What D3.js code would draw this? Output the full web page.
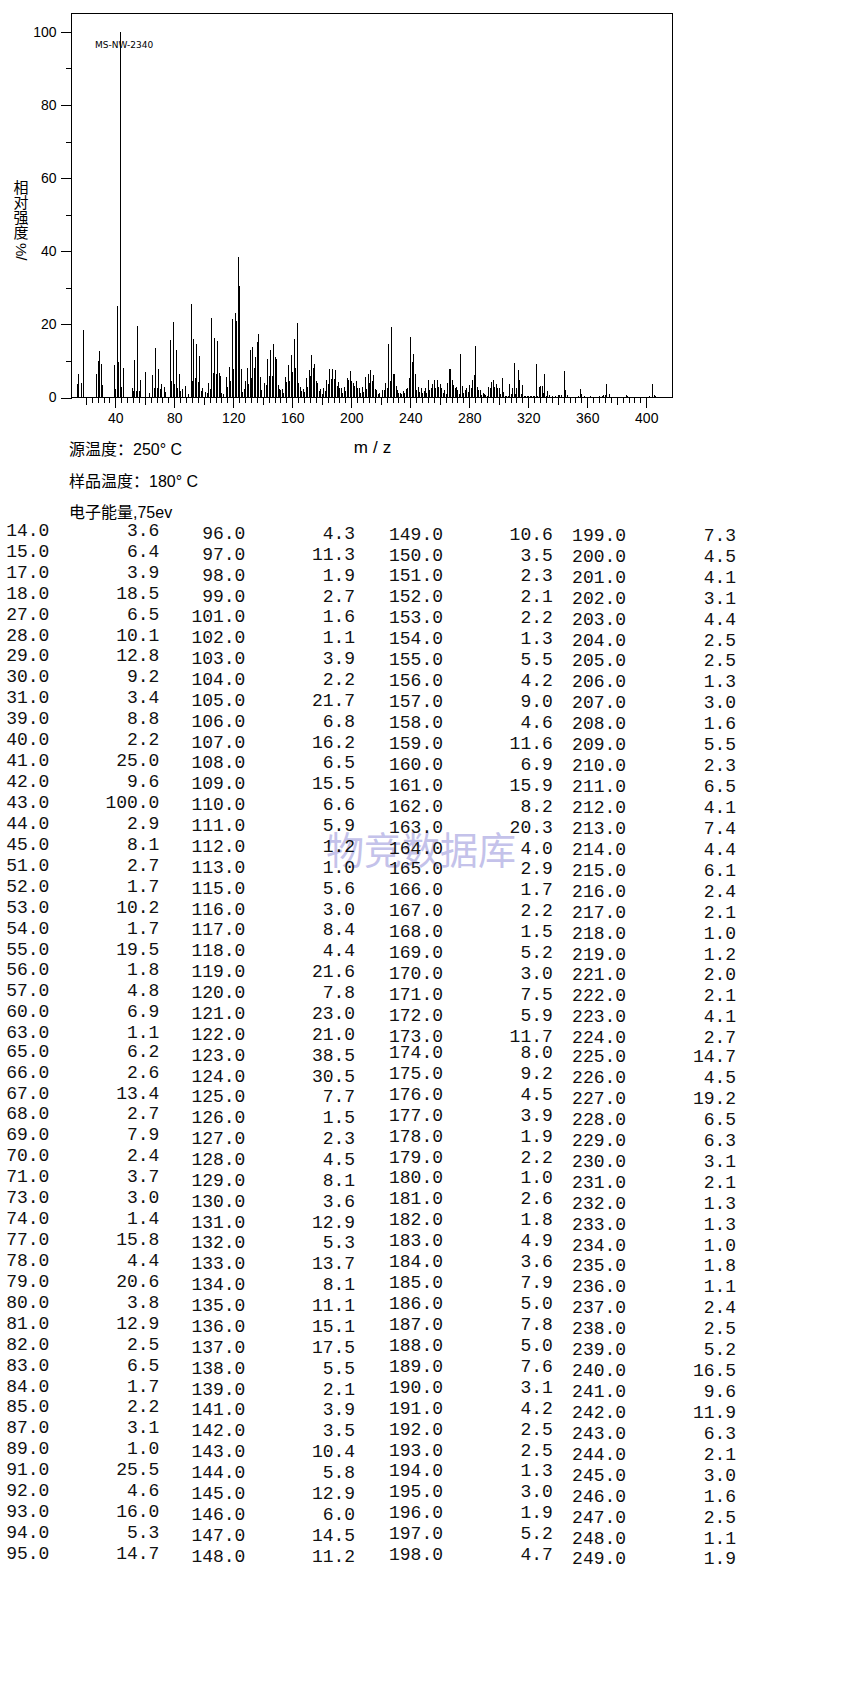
<!DOCTYPE html>
<html><head><meta charset="utf-8">
<script src="https://cdn.jsdelivr.net/npm/d3@7"></script>
<style>
html,body{margin:0;padding:0;background:#fff;}
svg{display:block;}
</style></head><body>
<svg id="chart" width="850" height="1701"></svg>
<script>
// ---- data: table columns (m/z, relative intensity) ----
const massCol1 = [14,15,17,18,27,28,29,30,31,39,40,41,42,43,44,45,51,52,53,54,55,56,57,60,63,65,66,67,68,69,70,71,73,74,77,78,79,80,81,82,83,84,85,87,89,91,92,93,94,95];
const intCol1  = [3.6,6.4,3.9,18.5,6.5,10.1,12.8,9.2,3.4,8.8,2.2,25.0,9.6,100.0,2.9,8.1,2.7,1.7,10.2,1.7,19.5,1.8,4.8,6.9,1.1,6.2,2.6,13.4,2.7,7.9,2.4,3.7,3.0,1.4,15.8,4.4,20.6,3.8,12.9,2.5,6.5,1.7,2.2,3.1,1.0,25.5,4.6,16.0,5.3,14.7];
const massCol2 = [96,97,98,99,101,102,103,104,105,106,107,108,109,110,111,112,113,115,116,117,118,119,120,121,122,123,124,125,126,127,128,129,130,131,132,133,134,135,136,137,138,139,141,142,143,144,145,146,147,148];
const intCol2  = [4.3,11.3,1.9,2.7,1.6,1.1,3.9,2.2,21.7,6.8,16.2,6.5,15.5,6.6,5.9,1.2,1.0,5.6,3.0,8.4,4.4,21.6,7.8,23.0,21.0,38.5,30.5,7.7,1.5,2.3,4.5,8.1,3.6,12.9,5.3,13.7,8.1,11.1,15.1,17.5,5.5,2.1,3.9,3.5,10.4,5.8,12.9,6.0,14.5,11.2];
const massCol3 = [149,150,151,152,153,154,155,156,157,158,159,160,161,162,163,164,165,166,167,168,169,170,171,172,173,174,175,176,177,178,179,180,181,182,183,184,185,186,187,188,189,190,191,192,193,194,195,196,197,198];
const intCol3  = [10.6,3.5,2.3,2.1,2.2,1.3,5.5,4.2,9.0,4.6,11.6,6.9,15.9,8.2,20.3,4.0,2.9,1.7,2.2,1.5,5.2,3.0,7.5,5.9,11.7,8.0,9.2,4.5,3.9,1.9,2.2,1.0,2.6,1.8,4.9,3.6,7.9,5.0,7.8,5.0,7.6,3.1,4.2,2.5,2.5,1.3,3.0,1.9,5.2,4.7];
const massCol4 = [199,200,201,202,203,204,205,206,207,208,209,210,211,212,213,214,215,216,217,218,219,221,222,223,224,225,226,227,228,229,230,231,232,233,234,235,236,237,238,239,240,241,242,243,244,245,246,247,248,249];
const intCol4  = [7.3,4.5,4.1,3.1,4.4,2.5,2.5,1.3,3.0,1.6,5.5,2.3,6.5,4.1,7.4,4.4,6.1,2.4,2.1,1.0,1.2,2.0,2.1,4.1,2.7,14.7,4.5,19.2,6.5,6.3,3.1,2.1,1.3,1.3,1.0,1.8,1.1,2.4,2.5,5.2,16.5,9.6,11.9,6.3,2.1,3.0,1.6,2.5,1.1,1.9];
// peaks drawn in the spectrum above m/z 249
const extraMasses = [250,251,252,253,254,255,256,257,258,259,260,261,262,263,264,265,266,267,268,269,270,271,272,273,274,275,276,277,278,279,280,281,282,283,284,285,286,287,288,289,290,291,292,293,294,295,296,297,298,299,300,301,302,303,304,305,306,307,308,309,310,311,312,313,314,315,316,317,318,319,320,321,322,323,324,325,326,327,328,329,330,331,332,333,334,336,338,340,341,342,344,345,346,354,355,356,358,362,368,370,371,372,373,375,386,387,402,404,405,406];
const extraIntensities = [2.5,1.2,4.7,2.0,2.5,3.8,4.7,2.5,4.7,3.0,3.8,2.7,1.1,2.0,1.0,4.0,7.7,7.7,4.7,3.4,2.7,2.9,2.0,1.0,11.8,3.1,1.3,2.0,2.5,1.5,3.4,2.5,4.9,6.1,14.0,3.0,2.0,2.0,0.6,1.1,0.9,0.8,0.5,2.9,2.7,4.3,4.7,3.0,3.8,2.5,2.6,1.0,5.2,1.5,0.4,0.4,0.4,3.6,1.0,2.5,9.3,1.0,2.5,7.6,4.9,1.0,3.3,0.4,0.4,0.4,0.4,0.4,0.4,0.4,0.4,9.1,0.5,2.9,3.1,3.1,1.1,6.4,0.5,1.8,0.7,0.4,0.4,0.7,0.7,0.7,7.2,2.0,0.7,0.4,2.2,0.9,0.5,0.5,0.4,0.5,0.7,0.7,3.6,0.9,0.7,0.4,0.4,3.6,0.8,0.4];

const yMajorTicks = [0,20,40,60,80,100];
const yMinorTicks = [10,30,50,70,90];
const xMajorTicks = [40,80,120,160,200,240,280,320,360,400];
const spectrumId = "MS-NW-2340";
const xTitle = "m/z";
const yTitleChars = ["相", "对", "强", "度"];
const yTitleUnit = "%/";
const conditionLines = ["源温度：250° C", "样品温度：180° C", "电子能量,75ev"];
const watermark = "物竞数据库";

// ---- layout ----
const svg = d3.select("#chart");
const plot = {left: 71.5, right: 672.5, top: 13.5, bottom: 397.5};
const x = d3.scaleLinear().domain([10.3, 417.8]).range([plot.left, plot.right]);
const y = d3.scaleLinear().domain([0, 105]).range([plot.bottom, plot.top]);

const cols = [
  {mass: massCol1, val: intCol1},
  {mass: massCol2, val: intCol2},
  {mass: massCol3, val: intCol3},
  {mass: massCol4, val: intCol4}
];
const peaks = [];
cols.forEach(c => c.mass.forEach((m, i) => peaks.push({m, v: c.val[i]})));
extraMasses.forEach((m, i) => peaks.push({m, v: extraIntensities[i]}));

// bars
svg.append("g").selectAll("rect").data(peaks).join("rect")
  .attr("x", d => Math.round(x(d.m)))
  .attr("width", 1)
  .attr("y", d => y(d.v))
  .attr("height", d => plot.bottom - y(d.v))
  .attr("fill", "#000")
  .attr("shape-rendering", "crispEdges");

// frame
svg.append("rect").attr("x", plot.left).attr("y", plot.top)
  .attr("width", plot.right - plot.left).attr("height", plot.bottom - plot.top)
  .attr("fill", "none").attr("stroke", "#000").attr("stroke-width", 1)
  .attr("shape-rendering", "crispEdges");

// x axis ticks
const xMinor = d3.range(20, 401, 4).filter(v => v % 20 !== 0);
const xMid = d3.range(20, 401, 20).filter(v => v % 40 !== 0);
function styleAxis(g) {
  g.select(".domain").remove();
  g.selectAll("line").attr("stroke", "#000").attr("shape-rendering", "crispEdges");
  g.selectAll("text").attr("fill", "#000");
}
svg.append("g").attr("transform", `translate(0,${plot.bottom})`)
  .call(d3.axisBottom(x).tickValues(xMinor).tickSize(5).tickFormat(""))
  .call(styleAxis);
svg.append("g").attr("transform", `translate(0,${plot.bottom})`)
  .call(d3.axisBottom(x).tickValues(xMid).tickSize(7).tickFormat(""))
  .call(styleAxis);
svg.append("g").attr("transform", `translate(0,${plot.bottom})`)
  .call(d3.axisBottom(x).tickValues(xMajorTicks).tickSize(10).tickPadding(6).tickFormat(d3.format("d")))
  .call(styleAxis)
  .selectAll("text").attr("font-family", "'Liberation Sans', Arial, sans-serif").attr("font-size", "14px");

// y axis ticks
svg.append("g").attr("transform", `translate(${plot.left},0)`)
  .call(d3.axisLeft(y).tickValues(yMinorTicks).tickSize(6).tickFormat(""))
  .call(styleAxis);
svg.append("g").attr("transform", `translate(${plot.left},0)`)
  .call(d3.axisLeft(y).tickValues(yMajorTicks).tickSize(11).tickPadding(4).tickFormat(d3.format("d")))
  .call(styleAxis)
  .selectAll("text").attr("font-family", "'Liberation Sans', Arial, sans-serif").attr("font-size", "14px");

// spectrum id
svg.append("text").attr("x", 95).attr("y", 47.5)
  .attr("font-family", "'DejaVu Sans', sans-serif").attr("font-size", "9px").attr("fill", "#000")
  .text(spectrumId);

// y title (vertical): upright CJK characters in one text, then the unit turned sideways
const yTitle = svg.append("g").attr("font-family", "'Noto Sans CJK SC', sans-serif")
  .attr("font-size", "15px").attr("fill", "#000");
yTitle.append("text").attr("text-anchor", "middle")
  .selectAll("tspan").data(yTitleChars).join("tspan")
  .attr("x", 21).attr("y", (d, i) => 193 + i * 15)
  .text(d => d);
yTitle.append("text")
  .attr("transform", "translate(21,243) rotate(90)")
  .attr("dominant-baseline", "central")
  .attr("font-family", "'Liberation Sans', Arial, sans-serif")
  .text(yTitleUnit);

// x title
svg.append("text").attr("x", (plot.left + plot.right) / 2 + 3).attr("y", 453)
  .attr("text-anchor", "middle")
  .attr("font-family", "'Liberation Sans', Arial, sans-serif").attr("font-size", "17px")
  .attr("letter-spacing", "5px").attr("fill", "#000")
  .text(xTitle);

// condition lines
svg.append("g").selectAll("text").data(conditionLines).join("text")
  .attr("x", 69).attr("y", (d, i) => 455 + i * 31.5)
  .attr("font-family", "'Liberation Sans', 'Noto Sans CJK SC', sans-serif").attr("font-size", "16px").attr("fill", "#000")
  .text(d => d);

// watermark
svg.append("text").attr("x", 326).attr("y", 864)
  .attr("font-family", "'Noto Sans CJK SC', sans-serif").attr("font-size", "38px")
  .attr("fill", "#c4c2ea")
  .text(watermark);

// table
const tableLayout = [
  {massEnd: 49.4,  valEnd: 159.4, start: 530.0, step: 20.93, jump: -2.5},
  {massEnd: 245.4, valEnd: 355.1, start: 533.0, step: 20.87, jump: 0},
  {massEnd: 443.0, valEnd: 552.8, start: 533.7, step: 20.93, jump: -5},
  {massEnd: 626.1, valEnd: 736.1, start: 535.0, step: 20.93, jump: -2}
];
const fmt = d3.format(".1f");
cols.forEach((c, ci) => {
  const L = tableLayout[ci];
  const g = svg.append("g")
    .attr("font-family", "'Liberation Mono', 'Courier New', monospace")
    .attr("font-size", "18px").attr("fill", "#111").attr("text-anchor", "end");
  const rowY = i => L.start + i * L.step + (i >= 25 ? L.jump : 0) + 5.9;
  g.selectAll("text.m").data(c.mass).join("text").attr("class", "m")
    .attr("x", L.massEnd).attr("y", (d, i) => rowY(i)).text(d => fmt(d));
  g.selectAll("text.v").data(c.val).join("text").attr("class", "v")
    .attr("x", L.valEnd).attr("y", (d, i) => rowY(i)).text(d => fmt(d));
});
</script>
</body></html>
